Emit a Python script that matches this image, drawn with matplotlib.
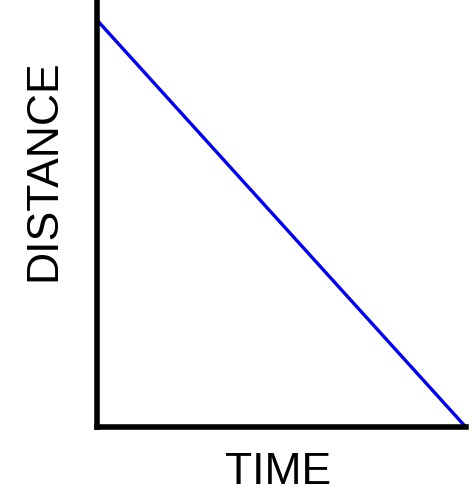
import matplotlib
matplotlib.use("Agg")
import matplotlib.pyplot as plt

time = [0.0, 1.0]
distance = [0.953, 0.0]

fig = plt.figure(figsize=(4.74, 5.0), dpi=100)
ax = fig.add_axes([0.2046, 0.146, 0.778, 0.854])
ax.plot(time, distance, color="#0000ee", lw=2.4, solid_capstyle="butt")
ax.set_xlim(0, 1)
ax.set_ylim(0, 1)
for s in ["top", "right"]:
    ax.spines[s].set_visible(False)
for s in ["left", "bottom"]:
    ax.spines[s].set_linewidth(4)
ax.set_xticks([]); ax.set_yticks([])
fig.text(278/474, 1-472/500, "TIME", ha="center", va="center", fontsize=32, family="Liberation Sans")
fig.text(44/474, 1-170/500, "DISTANCE", ha="center", va="center", rotation=90, fontsize=32, family="Liberation Sans")
fig.savefig("out.png", dpi=100)
